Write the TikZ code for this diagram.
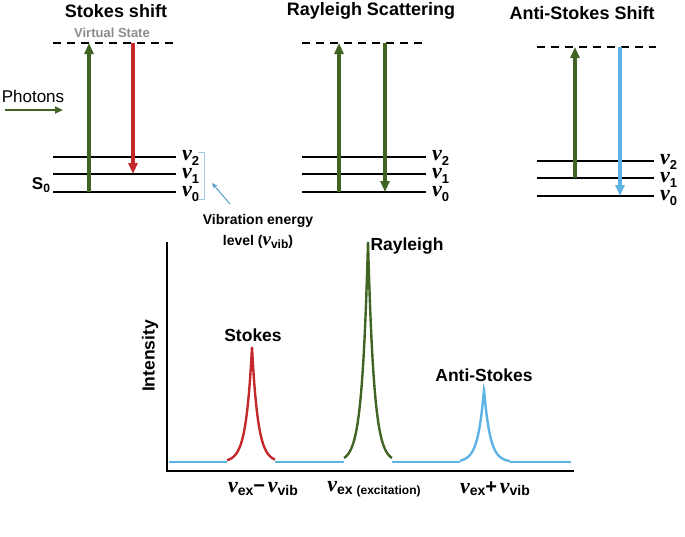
\documentclass[tikz,border=0pt]{standalone}
\usepackage{fontspec}
\setmainfont{Liberation Sans}
\newfontfamily\nufont{Liberation Serif}
\usetikzlibrary{arrows.meta}
\definecolor{grn}{HTML}{416324}
\definecolor{rd}{HTML}{C3282B}
\definecolor{blu}{HTML}{5DB3E3}
\definecolor{gry}{HTML}{8C8C8C}
\newcommand\nusub[3][22]{{\fontsize{#1}{#1}\selectfont\nufont\bfseries\itshape ν}{\raisebox{-0.45ex}{\fontsize{#2}{#2}\selectfont\bfseries #3}}}
\newcommand\nustack{\nusub{13}{2}\\\nusub{13}{1}\\\nusub{13}{0}}
\tikzset{
  lvl/.style={line width=2.6pt,black},
  virt/.style={line width=2.2pt,black,dash pattern=on 8pt off 6pt},
  trans/.style={line width=3.2pt,-{Triangle[length=11pt,width=9pt]}},
  ttl/.style={font=\fontsize{18}{18}\selectfont\bfseries,inner sep=0pt},
  nul/.style={anchor=base west,inner sep=0pt,align=left,font=\fontsize{22}{18}\selectfont},
  pk/.style={line width=2.4pt},
  lbl/.style={inner sep=0pt,font=\fontsize{17.5}{17.5}\selectfont\bfseries},
}
\begin{document}
\begin{tikzpicture}[x=1pt,y=-1pt]
\useasboundingbox (0,0) rectangle (685,536);
% ---------- Stokes panel
\node[ttl] (t1) at (116,11) {Stokes shift};
\node[inner sep=0pt,text=gry,font=\fontsize{13}{13}\selectfont\bfseries] (vs) at (112,33) {Virtual State};
\coordinate (d1a) at (53,43); \coordinate (d1b) at (174,43);
\draw[virt] (d1a) -- (d1b);
\coordinate (a2) at (53,157); \coordinate (b2) at (176,157);
\coordinate (a1) at (53,174); \coordinate (b1) at (176,174);
\coordinate (a0) at (53,192); \coordinate (b0) at (176,192);
\draw[lvl] (a2) -- (b2); \draw[lvl] (a1) -- (b1); \draw[lvl] (a0) -- (b0);
\node[nul] (na) at (182,196) {\nustack};
\node[inner sep=0pt,font=\fontsize{17}{17}\selectfont\bfseries] (s0) at (41,185) {S\raisebox{-0.4ex}{\fontsize{12}{12}\selectfont 0}};
\coordinate (u1s) at (89,192); \coordinate (u1e) at (89,43);
\draw[trans,grn] (u1s) -- (u1e);
\coordinate (r1s) at (133,43); \coordinate (r1e) at (133,174);
\draw[trans,rd] (r1s) -- (r1e);
\node[inner sep=0pt,font=\fontsize{17}{17}\selectfont] (ph) at (33,96) {Photons};
\coordinate (pha) at (5,110); \coordinate (phb) at (63,110);
\draw[grn,line width=2.6pt,-{Triangle[length=8pt,width=7pt]}] (pha) -- (phb);
% bracket
\coordinate (br1) at (198,152); \coordinate (br2) at (204,152);
\coordinate (br3) at (204,199); \coordinate (br4) at (198,199);
\draw[blu!80!gray!60,line width=0.9pt] (br1) -- (br2) -- (br3) -- (br4);
\coordinate (vat) at (230,204); \coordinate (vah) at (212,183);
\draw[blu!90!black,line width=1pt,-{Stealth[length=6pt,width=5pt]}] (vat) -- (vah);
\node[inner sep=0pt,font=\fontsize{14}{14}\selectfont\bfseries] (ve1) at (258,221) {Vibration energy};
\node[inner sep=0pt,font=\fontsize{14}{14}\selectfont\bfseries] (ve2) at (258,242) {level (\nusub[19]{12}{vib})};
% ---------- Rayleigh panel
\node[ttl] (t2) at (371,11) {Rayleigh Scattering};
\coordinate (d2a) at (302,43); \coordinate (d2b) at (424,43);
\draw[virt] (d2a) -- (d2b);
\coordinate (c2) at (302,157); \coordinate (e2) at (426,157);
\coordinate (c1) at (302,174); \coordinate (e1) at (426,174);
\coordinate (c0) at (302,192); \coordinate (e0) at (426,192);
\draw[lvl] (c2) -- (e2); \draw[lvl] (c1) -- (e1); \draw[lvl] (c0) -- (e0);
\node[nul] (nb) at (432,196) {\nustack};
\coordinate (u2s) at (339,192); \coordinate (u2e) at (339,43);
\draw[trans,grn] (u2s) -- (u2e);
\coordinate (g2s) at (385,43); \coordinate (g2e) at (385,192);
\draw[trans,grn] (g2s) -- (g2e);
% ---------- Anti-Stokes panel
\node[ttl] (t3) at (582,13) {Anti-Stokes Shift};
\coordinate (d3a) at (537,47); \coordinate (d3b) at (656,47);
\draw[virt] (d3a) -- (d3b);
\coordinate (f2) at (537,161); \coordinate (h2) at (654,161);
\coordinate (f1) at (537,178); \coordinate (h1) at (654,178);
\coordinate (f0) at (537,196); \coordinate (h0) at (654,196);
\draw[lvl] (f2) -- (h2); \draw[lvl] (f1) -- (h1); \draw[lvl] (f0) -- (h0);
\node[nul] (nc) at (660,200) {\nustack};
\coordinate (u3s) at (575,178); \coordinate (u3e) at (575,47);
\draw[trans,grn] (u3s) -- (u3e);
\coordinate (b3s) at (620,47); \coordinate (b3e) at (620,196);
\draw[trans,blu] (b3s) -- (b3e);
% ---------- Spectrum
\coordinate (ytop) at (167,242); \coordinate (orig) at (167,471); \coordinate (xend) at (574,471);
\draw[line width=2.8pt,black] (ytop) -- (orig) -- (xend);
\node[rotate=90,lbl] (int) at (150,356) {Intensity};
% baseline
\coordinate (bl0) at (169,462); \coordinate (bl1) at (227,462);
\coordinate (bl6) at (275,462); \coordinate (bl7) at (344,462);
\coordinate (bl2) at (392,462); \coordinate (bl3) at (460,462);
\coordinate (bl4) at (510,462); \coordinate (bl5) at (571,462);
\draw[blu,pk] (bl0) -- (bl1);
\draw[blu,pk] (bl6) -- (bl7);
\draw[blu,pk] (bl2) -- (bl3);
\draw[blu,pk] (bl4) -- (bl5);
% Stokes peak
\draw[rd,pk] plot[domain=227:252,samples=80,smooth] (\x,{462-115*exp(-abs(\x-252)/6)})
  -- plot[domain=252:275,samples=80,smooth] (\x,{462-115*exp(-abs(\x-252)/6)});
% Rayleigh peak
\draw[grn,pk] plot[domain=344:368,samples=80,smooth] (\x,{462-220*exp(-abs(\x-368)/6)})
  -- plot[domain=368:392,samples=80,smooth] (\x,{462-220*exp(-abs(\x-368)/6)});
% Anti-Stokes peak
\draw[blu,pk] plot[domain=460:484,samples=80,smooth] (\x,{462-73*exp(-abs(\x-484)/6)})
  -- plot[domain=484:510,samples=80,smooth] (\x,{462-73*exp(-abs(\x-484)/6)});
\node[lbl] (ls) at (253,335) {Stokes};
\node[lbl] (lr) at (407,246) {Rayleigh};
\node[lbl] (la) at (484,375) {Anti-Stokes};
\node[inner sep=0pt] (x1) at (263,489) {\nusub{14}{ex}{\fontsize{20}{20}\selectfont\bfseries −} \nusub{14}{vib}};
\node[inner sep=0pt] (x2) at (374,489) {\nusub{14}{ex {\fontsize{12}{12}\selectfont(excitation)}}};
\node[inner sep=0pt] (x3) at (495,489) {\nusub{14}{ex}{\fontsize{20}{20}\selectfont\bfseries +} \nusub{14}{vib}};
\end{tikzpicture}
\end{document}
